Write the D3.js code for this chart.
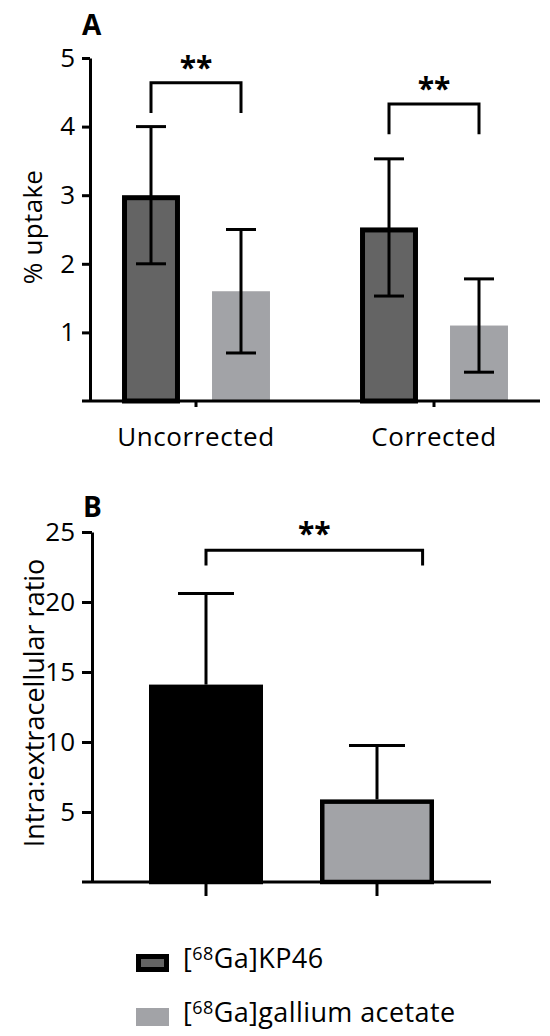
<!DOCTYPE html>
<html><head><meta charset="utf-8">
<script src="https://cdn.jsdelivr.net/npm/d3@7"></script>
<style>
html,body{margin:0;padding:0;background:#fff;}
svg{display:block;font-family:"Open Sans",sans-serif;}
</style></head><body>
<svg id="chart" width="550" height="1036"></svg>
<script>
// ---------- Panel A data ----------
const groupsA = ["Uncorrected", "Corrected"];
const seriesNames = ["[68Ga]KP46", "[68Ga]gallium acetate"];
const kp46MeanA = [3.0, 2.53];
const kp46SdA = [1.0, 1.0];
const acetateMeanA = [1.6, 1.1];
const acetateSdA = [0.9, 0.68];
const yTicksA = [1, 2, 3, 4, 5];
const sigA = [
  {group: "Uncorrected", level: 4.64, legEnd: 4.2, label: "**"},
  {group: "Corrected", level: 4.33, legEnd: 3.89, label: "**"}
];

// ---------- Panel B data ----------
const seriesB = ["[68Ga]KP46", "[68Ga]gallium acetate"];
const meanB = [14.1, 5.9];
const sdB = [6.5, 3.85];
const yTicksB = [5, 10, 15, 20, 25];
const sigB = {level: 23.7, legEnd: 22.6, label: "**"};

const DARK = "#646464", LIGHT = "#a2a3a7", INK = "#000";

const svg = d3.select("#chart");

// ================= PANEL A =================
const yA = d3.scaleLinear().domain([0, 5]).range([401, 58]);
const xA = d3.scaleBand().domain(groupsA).range([77, 553]);
const xInA = d3.scaleBand().domain(seriesNames).range([-90, 90])
  .paddingInner(0.356).paddingOuter(0.178);

const barsA = [];
groupsA.forEach((g, i) => {
  barsA.push({g, s: seriesNames[0], m: kp46MeanA[i], sd: kp46SdA[i]});
  barsA.push({g, s: seriesNames[1], m: acetateMeanA[i], sd: acetateSdA[i]});
});
const cx = d => xA(d.g) + xA.bandwidth() / 2 + xInA(d.s) + xInA.bandwidth() / 2;

const gA = svg.append("g");
gA.selectAll("rect.bar").data(barsA).join("rect")
  .attr("class", "bar")
  .each(function(d) {
    const x0 = xA(d.g) + xA.bandwidth() / 2 + xInA(d.s);
    const w = xInA.bandwidth();
    const sel = d3.select(this);
    if (d.s === seriesNames[0]) {
      const sw = 5;
      sel.attr("x", x0 + sw / 2).attr("y", yA(d.m) + sw / 2)
        .attr("width", w - sw).attr("height", yA(0) - yA(d.m) - sw / 2)
        .attr("fill", DARK).attr("stroke", INK).attr("stroke-width", sw);
    } else {
      sel.attr("x", x0).attr("y", yA(d.m))
        .attr("width", w).attr("height", yA(0) - yA(d.m))
        .attr("fill", LIGHT);
    }
  });
const capA = 30;
const eA = gA.selectAll("g.err").data(barsA).join("g").attr("class", "err")
  .attr("stroke", INK).attr("stroke-width", 3);
eA.append("line").attr("x1", cx).attr("x2", cx)
  .attr("y1", d => yA(d.m - d.sd)).attr("y2", d => yA(d.m + d.sd));
eA.append("line").attr("x1", d => cx(d) - capA / 2).attr("x2", d => cx(d) + capA / 2)
  .attr("y1", d => yA(d.m + d.sd)).attr("y2", d => yA(d.m + d.sd));
eA.append("line").attr("x1", d => cx(d) - capA / 2).attr("x2", d => cx(d) + capA / 2)
  .attr("y1", d => yA(d.m - d.sd)).attr("y2", d => yA(d.m - d.sd));

const yAxA = gA.append("g").attr("transform", "translate(90,0)")
  .call(d3.axisLeft(yA).tickValues(yTicksA).tickFormat(d3.format("d"))
    .tickSize(8).tickPadding(7).tickSizeOuter(0));
yAxA.select(".domain").attr("stroke-width", 3);
yAxA.selectAll(".tick line").attr("stroke-width", 3);
yAxA.selectAll(".tick text").attr("font-size", 26).attr("font-family", "Open Sans").attr("fill", INK);

const xAxA = gA.append("g").attr("transform", `translate(0,${yA(0)})`)
  .call(d3.axisBottom(xA).tickSize(6).tickPadding(21));
xAxA.select(".domain").remove();
xAxA.selectAll(".tick line").attr("stroke-width", 3);
xAxA.selectAll(".tick text").attr("font-size", 26).attr("font-family", "Open Sans")
  .attr("letter-spacing", "0.6px").attr("fill", INK);
gA.append("line").attr("x1", 82).attr("x2", 540).attr("y1", yA(0)).attr("y2", yA(0))
  .attr("stroke", INK).attr("stroke-width", 3);

sigA.forEach(s => {
  const x1 = cx({g: s.group, s: seriesNames[0]});
  const x2 = cx({g: s.group, s: seriesNames[1]});
  gA.append("path")
    .attr("d", `M${x1},${yA(s.legEnd)}V${yA(s.level)}H${x2}V${yA(s.legEnd)}`)
    .attr("fill", "none").attr("stroke", INK).attr("stroke-width", 3);
  gA.append("text").attr("x", (x1 + x2) / 2).attr("y", yA(s.level) - 5)
    .attr("text-anchor", "middle").attr("font-size", 30).attr("font-weight", 700)
    .text(s.label);
});

svg.append("text").attr("x", 82).attr("y", 35).attr("font-size", 28).attr("font-weight", 700).text("A");
svg.append("text").attr("transform", "translate(42,227) rotate(-90)")
  .attr("text-anchor", "middle").attr("font-size", 26).attr("letter-spacing", "0.3px").text("% uptake");

// ================= PANEL B =================
const yB = d3.scaleLinear().domain([0, 25]).range([882, 532]);
const xB = d3.scaleBand().domain(seriesB).range([120.5, 462.5])
  .paddingInner(1 / 3).paddingOuter(1 / 6);
const barsB = seriesB.map((s, i) => ({s, m: meanB[i], sd: sdB[i]}));
const cxB = d => xB(d.s) + xB.bandwidth() / 2;

const gB = svg.append("g");
gB.selectAll("rect").data(barsB).join("rect")
  .each(function(d, i) {
    const sw = 4.5;
    d3.select(this).attr("x", xB(d.s) + sw / 2).attr("y", yB(d.m) + sw / 2)
      .attr("width", xB.bandwidth() - sw).attr("height", yB(0) - yB(d.m) - sw / 2)
      .attr("fill", i === 0 ? INK : LIGHT).attr("stroke", INK).attr("stroke-width", sw);
  });
const capB = 56;
const eB = gB.selectAll("g.err").data(barsB).join("g").attr("class", "err")
  .attr("stroke", INK).attr("stroke-width", 3);
eB.append("line").attr("x1", cxB).attr("x2", cxB)
  .attr("y1", d => yB(d.m)).attr("y2", d => yB(d.m + d.sd));
eB.append("line").attr("x1", d => cxB(d) - capB / 2).attr("x2", d => cxB(d) + capB / 2)
  .attr("y1", d => yB(d.m + d.sd)).attr("y2", d => yB(d.m + d.sd));

const yAxB = gB.append("g").attr("transform", "translate(92,0)")
  .call(d3.axisLeft(yB).tickValues(yTicksB).tickFormat(d3.format("d"))
    .tickSize(10).tickPadding(7).tickSizeOuter(0));
yAxB.select(".domain").attr("stroke-width", 3);
yAxB.selectAll(".tick line").attr("stroke-width", 3);
yAxB.selectAll(".tick text").attr("font-size", 26).attr("font-family", "Open Sans").attr("fill", INK);

const xAxB = gB.append("g").attr("transform", `translate(0,${yB(0)})`)
  .call(d3.axisBottom(xB).tickSize(14).tickFormat(""));
xAxB.select(".domain").remove();
xAxB.selectAll(".tick line").attr("stroke-width", 3);
gB.append("line").attr("x1", 82).attr("x2", 491).attr("y1", yB(0)).attr("y2", yB(0))
  .attr("stroke", INK).attr("stroke-width", 3);

{
  const x1 = cxB(barsB[0]);
  const x2 = xB(seriesB[1]) + xB.bandwidth() * 0.9;
  gB.append("path")
    .attr("d", `M${x1},${yB(sigB.legEnd)}V${yB(sigB.level)}H${x2}V${yB(sigB.legEnd)}`)
    .attr("fill", "none").attr("stroke", INK).attr("stroke-width", 3);
  gB.append("text").attr("x", (x1 + x2) / 2).attr("y", yB(sigB.level) - 6)
    .attr("text-anchor", "middle").attr("font-size", 30).attr("font-weight", 700)
    .text(sigB.label);
}

svg.append("text").attr("x", 83).attr("y", 517).attr("font-size", 28).attr("font-weight", 700).text("B");
svg.append("text").attr("transform", "translate(44,703) rotate(-90)")
  .attr("text-anchor", "middle").attr("font-size", 27).text("Intra:extracellular ratio");

// ================= LEGEND =================
const legendItems = [
  {pre: "[", sup: "68", post: "Ga]KP46", fill: DARK, stroke: INK},
  {pre: "[", sup: "68", post: "Ga]gallium acetate", fill: LIGHT, stroke: null}
];
const lg = svg.append("g");
legendItems.forEach((d, i) => {
  const y0 = 954 + i * 54;
  if (d.stroke) {
    lg.append("rect").attr("x", 136 + 2.5).attr("y", y0 + 2.5).attr("width", 33 - 5).attr("height", 18 - 5)
      .attr("fill", d.fill).attr("stroke", d.stroke).attr("stroke-width", 5);
  } else {
    lg.append("rect").attr("x", 136).attr("y", y0).attr("width", 33).attr("height", 18).attr("fill", d.fill);
  }
  const t = lg.append("text").attr("x", 183).attr("y", y0 + 14).attr("font-size", 27).attr("letter-spacing", "0.4px");
  t.append("tspan").text(d.pre);
  t.append("tspan").attr("font-size", 18).attr("dy", -8).text(d.sup);
  t.append("tspan").attr("dy", 8).text(d.post);
});
</script>
</body></html>
